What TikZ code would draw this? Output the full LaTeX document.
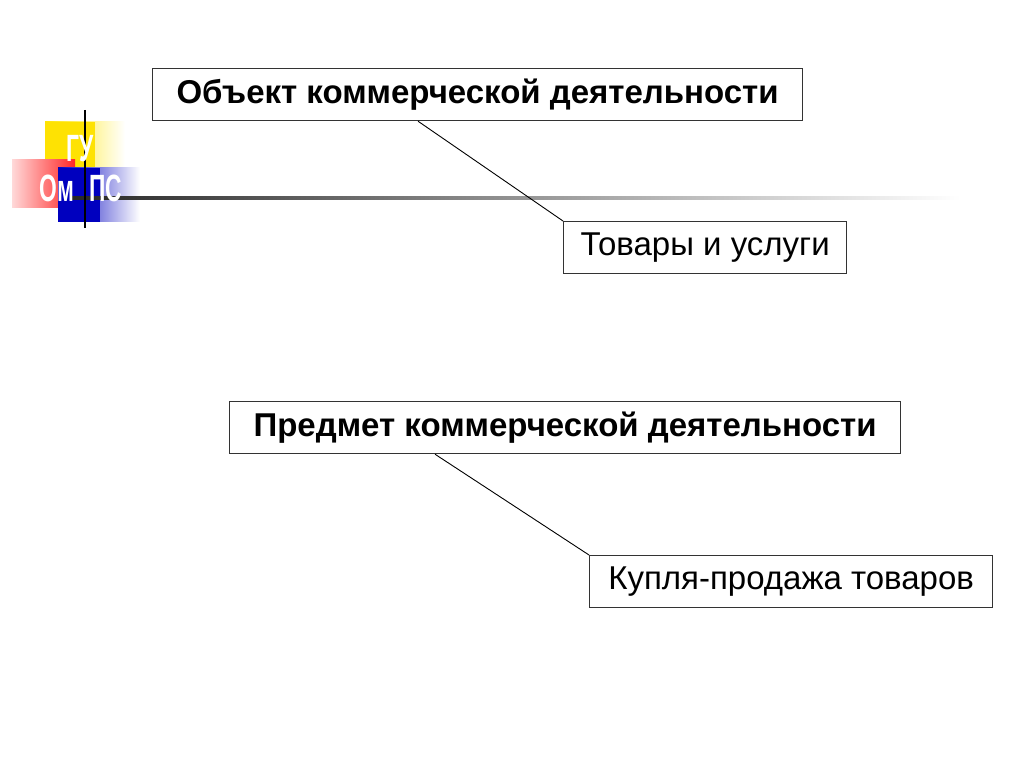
\documentclass[tikz,border=0pt]{standalone}
\usepackage{fontspec}
\setmainfont{Liberation Sans}
\begin{document}
\begin{tikzpicture}[x=1pt,y=-1pt,
  bx/.style={draw=black!80,line width=1.2pt,fill=white,inner sep=0pt,minimum height=52pt,anchor=north west,font=\fontsize{33}{36}\selectfont},
  lg/.style={text=white,inner sep=0pt,xscale=0.6,font=\bfseries\fontsize{38}{38}\selectfont},
  ln/.style={draw=black,line width=0.9pt}]
\useasboundingbox (0,0) rectangle (1024,767);
% logo
\shade[left color=yellow!80!orange,right color=white] (45,122) rectangle (125,172);
\fill[yellow!85!orange] (45,122) rectangle (95,172);
\shade[left color=red!15,right color=red!85] (12,160) rectangle (75,208);
\shade[left color=blue!75!black,right color=white] (58,168) rectangle (140,222);
\fill[blue!75!black] (58,168) rectangle (100,222);
\shade[left color=black!85,right color=white] (70,196.5) rectangle (960,200);
\draw[line width=2pt] (85,110) -- (85,228);
\node[lg] (gu) at (80,149) {ГУ};
\node[lg] (om) at (57,188) {Ом};
\node[lg] (ps) at (106,188) {ПС};
% boxes
\node[bx,minimum width=650pt,font=\bfseries\fontsize{33}{36}\selectfont] (b1) at (152,68) {Объект коммерческой деятельности};
\node[bx,minimum width=283pt] (b2) at (563,221) {Товары и услуги};
\node[bx,minimum width=671pt,font=\bfseries\fontsize{33}{36}\selectfont] (b3) at (229,401) {Предмет коммерческой деятельности};
\node[bx,minimum width=403pt] (b4) at (589,555) {Купля-продажа товаров};
\draw[ln] (b1.south west) ++(266,0) coordinate (c1) -- (b2.north west);
\draw[ln] (b3.south west) ++(206,0) coordinate (c3) -- (b4.north west);
\end{tikzpicture}
\end{document}
